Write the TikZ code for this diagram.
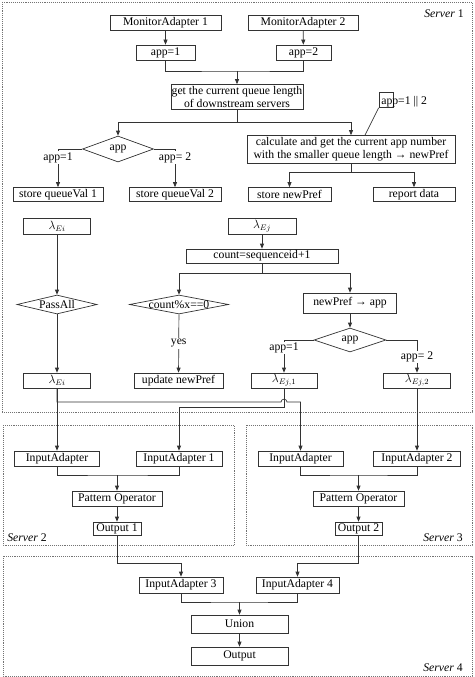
\documentclass[tikz,border=0pt]{standalone}
\usepackage{fontspec}
\setmainfont{Liberation Serif}
\usepackage{tikz}
\usetikzlibrary{arrows.meta, shapes.geometric}

\begin{document}
\begin{tikzpicture}[x=1pt, y=-1pt, >={Triangle[length=5pt, width=4pt]},
    font=\fontsize{11.7}{12.6}\selectfont, line width=0.7pt, draw=black!80,
    box/.style={draw, rectangle, inner sep=0pt, minimum height=15pt, align=center},
    decision/.style={draw, diamond, inner sep=0pt},
    server/.style={draw=black!55, densely dotted, line width=0.9pt},
    lab/.style={fill=white, inner sep=1pt}]
    \useasboundingbox (0,0) rectangle (474,677);

    % Servers
    \draw[server] (2,2) rectangle (472,412); % Server 1
    \draw[server] (3,425) rectangle (234,545); % Server 2
    \draw[server] (246,425) rectangle (472,545); % Server 3
    \draw[server] (3,556) rectangle (472,676); % Server 4
    \node (srv1) at (444,14) {\textit{Server} 1};
    \node (srv2) at (27,538) {\textit{Server} 2};
    \node (srv3) at (443,538) {\textit{Server} 3};
    \node (srv4) at (443,668) {\textit{Server} 4};

    % Nodes
    \node (monA) [box, minimum width=111pt] at (165.5,22.5) {MonitorAdapter 1}; % first monitor
    \node (monB) [box, minimum width=110pt] at (303,22.5) {MonitorAdapter 2}; % second monitor
    \node (appA) [box, minimum width=59pt] at (165.5,52.5) {app=1};
    \node (appB) [box, minimum width=55pt] at (303.5,52.5) {app=2};
    \coordinate (joinQ) at (237,71);
    \node (queue) [box, minimum width=132pt, minimum height=25pt] at (237,97) {get the current queue length\\of downstream servers};
    \coordinate (splitQ) at (237,122);
    \node (appDec) [decision, minimum width=71pt, minimum height=26pt] at (118,149) {\makebox[0pt]{app}}; % which app
    \node (calc) [box, minimum width=208pt, minimum height=28pt] at (351,149.5) {calculate and get the current app number\\with the smaller queue length → newPref};
    \node (storeA) [box, minimum width=90pt, minimum height=14pt] at (58,194.5) {store queueVal 1};
    \node (storeB) [box, minimum width=92pt, minimum height=14pt] at (175,194.5) {store queueVal 2};
    \coordinate (splitC) at (351,172);
    \node (storePref) [box, minimum width=83pt, minimum height=14pt] at (289.5,194.5) {store newPref};
    \node (report) [box, minimum width=82pt, minimum height=14pt] at (414,194.5) {report data};
    \node (noteBox) [draw, rectangle, minimum width=14pt, minimum height=15pt] at (386,100) {}; % callout frame
    \node (note) [anchor=west, inner sep=0pt] at (381,102) {app=1 || 2};

    \node (lamEi) [box, minimum width=67pt, minimum height=16pt] at (57,226) {$\lambda_{Ei}$};
    \node (lamEj) [box, minimum width=68pt, minimum height=16pt] at (262,226) {$\lambda_{Ej}$};
    \node (count) [box, minimum width=152pt, minimum height=14pt] at (262,256) {count=sequenceid+1};
    \coordinate (splitN) at (262,273);
    \node (pass) [decision, minimum width=80pt, minimum height=19pt] at (57,304.5) {\makebox[0pt]{PassAll}};
    \node (countDec) [decision, minimum width=99pt, minimum height=19pt] at (179,304.5) {\makebox[0pt]{count\%x==0}};
    \node (pref2app) [box, minimum width=93pt, minimum height=20pt] at (350,303) {newPref → app};
    \node (appDec2) [decision, minimum width=72pt, minimum height=24pt] at (350,340) {\makebox[0pt]{app}};
    \node (lamEiOut) [box, minimum width=67pt] at (57,380.5) {$\lambda_{Ei}$};
    \node (update) [box, minimum width=89pt] at (178.5,380.5) {update newPref};
    \node (lamEjA) [box, minimum width=66pt] at (284,380.5) {$\lambda_{Ej,1}$};
    \node (lamEjB) [box, minimum width=67pt] at (417,380.5) {$\lambda_{Ej,2}$};
    \coordinate (hop) at (284,402); % crossing point

    \node (inA) [box, minimum width=85pt] at (57,458.5) {InputAdapter};
    \node (inB) [box, minimum width=86pt] at (179,458.5) {InputAdapter 1};
    \coordinate (joinP) at (117,475);
    \node (patA) [box, minimum width=90pt] at (117,498.5) {Pattern Operator};
    \node (outA) [box, minimum width=48pt, minimum height=13pt] at (117,528.5) {Output 1};
    \node (inC) [box, minimum width=85pt] at (300.5,458.5) {InputAdapter};
    \node (inD) [box, minimum width=87pt] at (417,458.5) {InputAdapter 2};
    \coordinate (joinR) at (358.5,475);
    \node (patB) [box, minimum width=91pt] at (358.5,498.5) {Pattern Operator};
    \node (outB) [box, minimum width=47pt, minimum height=13pt] at (358.5,528.5) {Output 2};
    \node (inE) [box, minimum width=84pt, minimum height=16pt] at (181,585) {InputAdapter 3};
    \node (inF) [box, minimum width=83pt, minimum height=16pt] at (297.5,585) {InputAdapter 4};
    \coordinate (joinU) at (239.5,602);
    \node (union) [box, minimum width=97pt, minimum height=18pt] at (239.5,624) {Union};
    \node (output) [box, minimum width=97pt, minimum height=18pt] at (239.5,656) {Output};

    % Arrows and Annotations
    \draw[->] (monA) -- (appA);
    \draw[->] (monB) -- (appB);
    \draw (appA.south) |- (joinQ) -| (appB.south); % merge both apps
    \draw[->] (joinQ) -- (queue);
    \draw (queue) -- (splitQ);
    \draw[->] (splitQ) -| (appDec.north);
    \draw[->] (splitQ) -| (calc.north);
    \draw[->] (appDec.west) -| (storeA.north) node[lab, pos=0.61] {app=1};
    \draw[->] (appDec.east) -| (storeB.north) node[lab, pos=0.61] {app= 2};
    \draw (calc) -- (splitC);
    \draw[->] (splitC) -| (storePref.north);
    \draw[->] (splitC) -| (report.north);
    \draw (noteBox.south west) -- ([xshift=14pt]calc.north); % callout line

    \draw[->] (lamEi) -- (pass);
    \draw[->] (pass) -- (lamEiOut);
    \draw[->] (lamEj) -- (count);
    \draw (count) -- (splitN);
    \draw[->] (splitN) -| (countDec.north);
    \draw[->] (splitN) -| (pref2app.north);
    \draw[->] (countDec) -- (update) node[lab, midway] {yes};
    \draw[->] (pref2app) -- (appDec2);
    \draw[->] (appDec2.west) -| (lamEjA.north) node[lab, pos=0.62] {app=1};
    \draw[->] (appDec2.east) -| (lamEjB.north) node[lab, pos=0.76] {app= 2};

    \draw[->] (lamEiOut) -- (inA);
    \draw[->] (lamEiOut.south) |- ([xshift=-3pt]hop) to[out=90, in=90, looseness=1.6] ([xshift=3pt]hop) -| (inC.north); % hops over
    \draw[->] (lamEjA.south) -- ([yshift=-5pt]hop) -| (inB.north);
    \draw[->] (lamEjB) -- (inD);

    \draw (inA.south) |- (joinP) -| (inB.south);
    \draw[->] (joinP) -- (patA);
    \draw[->] (patA) -- (outA);
    \draw (inC.south) |- (joinR) -| (inD.south);
    \draw[->] (joinR) -- (patB);
    \draw[->] (patB) -- (outB);
    \draw[->] (outA.south) |- ([yshift=13pt]inE.north) -- (inE.north);
    \draw[->] (outB.south) |- ([yshift=13pt]inF.north) -- (inF.north);
    \draw (inE.south) |- (joinU) -| (inF.south);
    \draw[->] (joinU) -- (union);
    \draw[->] (union) -- (output);
\end{tikzpicture}
\end{document}
